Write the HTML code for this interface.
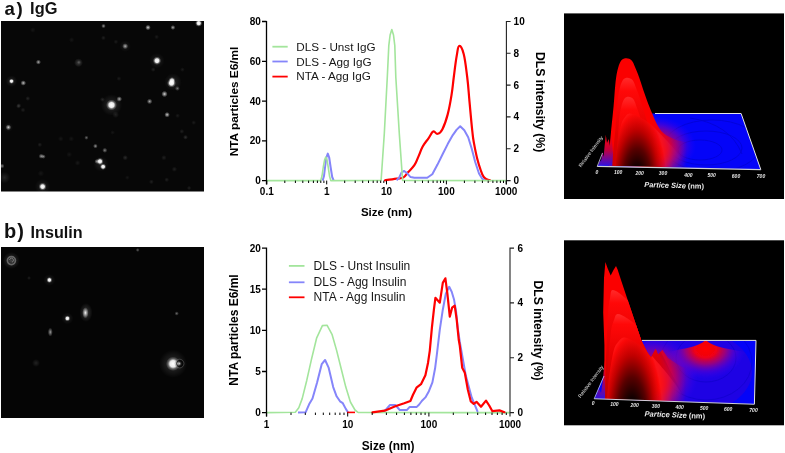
<!DOCTYPE html>
<html><head><meta charset="utf-8"><title>Figure</title>
<style>
html,body{margin:0;padding:0;background:#fff;}
body{width:785px;height:453px;overflow:hidden;}
svg{display:block;}
text{font-family:"Liberation Sans",Arial,sans-serif;}
.b{font-weight:bold;}
.tk{font-weight:bold;font-size:10px;fill:#000;}
.lg{font-size:11.5px;fill:#161616;}
.ax{font-weight:bold;font-size:11.5px;fill:#000;}
.w{fill:#e8e8e8;font-weight:bold;font-style:italic;font-size:5px;}
</style></head><body>
<svg width="785" height="453" viewBox="0 0 785 453">
<defs>
<radialGradient id="pw"><stop offset="0" stop-color="#fff" stop-opacity="1"/><stop offset="0.45" stop-color="#fff" stop-opacity="0.9"/><stop offset="0.7" stop-color="#fff" stop-opacity="0.3"/><stop offset="1" stop-color="#fff" stop-opacity="0"/></radialGradient>
<radialGradient id="ps"><stop offset="0" stop-color="#fff" stop-opacity="1"/><stop offset="0.4" stop-color="#fff" stop-opacity="0.55"/><stop offset="1" stop-color="#fff" stop-opacity="0"/></radialGradient>
<radialGradient id="ph"><stop offset="0" stop-color="#fff" stop-opacity="0.35"/><stop offset="1" stop-color="#fff" stop-opacity="0"/></radialGradient>
<linearGradient id="mtn" x1="0" y1="0" x2="0" y2="1"><stop offset="0" stop-color="#ff0000"/><stop offset="0.5" stop-color="#f00000"/><stop offset="0.75" stop-color="#a00000"/><stop offset="0.92" stop-color="#300008"/><stop offset="1" stop-color="#100010"/></linearGradient>
<linearGradient id="arch" x1="0" y1="0" x2="0" y2="1"><stop offset="0" stop-color="#ff1a1a"/><stop offset="0.25" stop-color="#f00000"/><stop offset="0.6" stop-color="#a80000"/><stop offset="0.9" stop-color="#300008"/><stop offset="1" stop-color="#0c0010"/></linearGradient>
<radialGradient id="rb"><stop offset="0" stop-color="#ff0000" stop-opacity="1"/><stop offset="0.35" stop-color="#f00010" stop-opacity="0.9"/><stop offset="0.7" stop-color="#a000a0" stop-opacity="0.45"/><stop offset="1" stop-color="#4000ff" stop-opacity="0"/></radialGradient>
<radialGradient id="a1" gradientUnits="userSpaceOnUse" cx="0" cy="0" r="1" gradientTransform="translate(637,186) scale(30,75)"><stop offset="0" stop-color="#000"/><stop offset="0.26" stop-color="#120000"/><stop offset="0.5" stop-color="#580000"/><stop offset="0.75" stop-color="#c00000"/><stop offset="0.95" stop-color="#fa0808"/><stop offset="1" stop-color="#ff1414"/></radialGradient>
<radialGradient id="a1b" gradientUnits="userSpaceOnUse" cx="0" cy="0" r="1" gradientTransform="translate(632,420) scale(31,86)"><stop offset="0" stop-color="#000"/><stop offset="0.26" stop-color="#120000"/><stop offset="0.5" stop-color="#580000"/><stop offset="0.75" stop-color="#c00000"/><stop offset="0.95" stop-color="#fa0808"/><stop offset="1" stop-color="#ff1414"/></radialGradient>
<linearGradient id="a2" x1="0" y1="0" x2="0" y2="1"><stop offset="0" stop-color="#ff2a2a"/><stop offset="0.12" stop-color="#ff0808"/><stop offset="0.5" stop-color="#e40000"/><stop offset="1" stop-color="#c00000"/></linearGradient>
<linearGradient id="spk" x1="0" y1="0" x2="0" y2="1"><stop offset="0" stop-color="#ff0000"/><stop offset="0.5" stop-color="#c00040"/><stop offset="1" stop-color="#3010e0"/></linearGradient>
<linearGradient id="fade1" gradientUnits="userSpaceOnUse" x1="650" y1="0" x2="688" y2="0"><stop offset="0" stop-color="#ff0000" stop-opacity="0"/><stop offset="0.3" stop-color="#e00030" stop-opacity="0.6"/><stop offset="0.6" stop-color="#8000b0" stop-opacity="0.7"/><stop offset="1" stop-color="#0404f8" stop-opacity="0"/></linearGradient>
<linearGradient id="fade2" gradientUnits="userSpaceOnUse" x1="646" y1="0" x2="690" y2="0"><stop offset="0" stop-color="#ff0000" stop-opacity="0"/><stop offset="0.3" stop-color="#e00030" stop-opacity="0.6"/><stop offset="0.6" stop-color="#8000b0" stop-opacity="0.7"/><stop offset="1" stop-color="#3004e8" stop-opacity="0"/></linearGradient>
<radialGradient id="rb3" gradientUnits="userSpaceOnUse" cx="0" cy="0" r="1" gradientTransform="translate(705.5,349) scale(40,30)"><stop offset="0" stop-color="#ff0000" stop-opacity="1"/><stop offset="0.28" stop-color="#fa0008" stop-opacity="0.95"/><stop offset="0.5" stop-color="#d00050" stop-opacity="0.7"/><stop offset="0.75" stop-color="#8000c0" stop-opacity="0.35"/><stop offset="1" stop-color="#4000ff" stop-opacity="0"/></radialGradient>
<radialGradient id="rb2"><stop offset="0" stop-color="#ff0000" stop-opacity="1"/><stop offset="0.3" stop-color="#f00010" stop-opacity="0.85"/><stop offset="0.65" stop-color="#a000a0" stop-opacity="0.4"/><stop offset="1" stop-color="#4000ff" stop-opacity="0"/></radialGradient>
<filter id="bl2" x="-5%" y="-5%" width="110%" height="110%"><feGaussianBlur stdDeviation="0.45"/></filter>
<filter id="bl" x="-20%" y="-20%" width="140%" height="140%"><feGaussianBlur stdDeviation="0.5"/></filter>
</defs>
<rect width="785" height="453" fill="#fff"/>

<text x="4.5" y="14.6" class="b" font-size="18.6" fill="#111">a</text><text x="16.4" y="14.9" class="b" font-size="18.8" fill="#111">)</text>
<text x="30.1" y="14.3" class="b" font-size="16" fill="#111" textLength="27.3" lengthAdjust="spacingAndGlyphs">IgG</text>
<text x="3.9" y="238.1" class="b" font-size="20" fill="#111">b</text><text x="17.3" y="238.1" class="b" font-size="20" fill="#111">)</text>
<text x="30.6" y="238.1" class="b" font-size="15.6" fill="#111" textLength="52" lengthAdjust="spacingAndGlyphs">Insulin</text>
<g><rect x="1" y="21" width="203" height="170.5" fill="#070707"/>
<g filter="url(#bl2)"><circle cx="11.5" cy="81.2" r="2.7" fill="url(#pw)" opacity="1"/><circle cx="11.5" cy="81.2" r="6" fill="url(#ph)" opacity="0.36"/><circle cx="23.3" cy="83" r="2.8" fill="url(#ps)" opacity="0.77"/><circle cx="38.4" cy="62.1" r="2.6" fill="url(#ps)" opacity="0.68"/><circle cx="78.5" cy="62.7" r="4.5" fill="url(#ph)" opacity="0.66"/><circle cx="79" cy="62.2" r="2" fill="url(#ph)" opacity="0.48"/><circle cx="103.5" cy="26" r="2.3" fill="url(#ps)" opacity="0.59"/><circle cx="27.8" cy="98.5" r="2.5" fill="url(#ph)" opacity="0.36"/><circle cx="18.9" cy="105.5" r="2.5" fill="url(#ph)" opacity="0.36"/><circle cx="32.8" cy="30" r="3" fill="url(#ph)" opacity="0.18"/><circle cx="71.6" cy="39.9" r="3" fill="url(#ph)" opacity="0.18"/><circle cx="103.4" cy="37.9" r="2.5" fill="url(#ph)" opacity="0.3"/><circle cx="102.4" cy="99.5" r="2.5" fill="url(#ph)" opacity="0.36"/><circle cx="198.7" cy="23.2" r="3.6" fill="url(#pw)" opacity="1"/><circle cx="148" cy="27.5" r="2.8" fill="url(#ps)" opacity="0.85"/><circle cx="172.9" cy="27.5" r="2.5" fill="url(#ps)" opacity="0.68"/><circle cx="125.2" cy="46.2" r="3" fill="url(#ps)" opacity="0.68"/><circle cx="125.2" cy="46.2" r="6" fill="url(#ph)" opacity="0.24"/><circle cx="157" cy="60.7" r="4.2" fill="url(#pw)" opacity="1"/><circle cx="157" cy="60.7" r="8" fill="url(#ph)" opacity="0.3"/><circle cx="171.5" cy="83.1" r="4.5" fill="url(#pw)" opacity="1"/><circle cx="172" cy="80.5" r="3.5" fill="url(#pw)" opacity="0.9"/><circle cx="173" cy="82" r="9" fill="url(#ph)" opacity="0.36"/><circle cx="177.4" cy="88.5" r="2.5" fill="url(#ps)" opacity="0.42"/><circle cx="164.5" cy="94" r="3.2" fill="url(#ps)" opacity="0.85"/><circle cx="149.6" cy="101.4" r="2.8" fill="url(#ps)" opacity="0.68"/><circle cx="119.3" cy="99" r="2.8" fill="url(#ps)" opacity="0.68"/><circle cx="111.5" cy="105" r="5.5" fill="url(#pw)" opacity="1"/><circle cx="111.5" cy="105" r="11" fill="url(#ph)" opacity="0.42"/><circle cx="153.2" cy="69.6" r="2.5" fill="url(#ph)" opacity="0.3"/><circle cx="156.6" cy="36.9" r="2.5" fill="url(#ph)" opacity="0.24"/><circle cx="115.9" cy="41.8" r="2.5" fill="url(#ph)" opacity="0.24"/><circle cx="182.4" cy="69.6" r="2.5" fill="url(#ph)" opacity="0.24"/><circle cx="118.9" cy="78.6" r="2.5" fill="url(#ph)" opacity="0.24"/><circle cx="8.4" cy="127.3" r="2.8" fill="url(#ps)" opacity="0.81"/><circle cx="8.4" cy="127.3" r="5" fill="url(#ph)" opacity="0.24"/><circle cx="42.6" cy="186.6" r="4" fill="url(#pw)" opacity="1"/><circle cx="42.6" cy="186.6" r="8" fill="url(#ph)" opacity="0.3"/><circle cx="100" cy="161.4" r="3.6" fill="url(#pw)" opacity="1"/><circle cx="103.1" cy="166.7" r="3.2" fill="url(#pw)" opacity="1"/><circle cx="96.9" cy="161.4" r="2.5" fill="url(#ps)" opacity="0.59"/><circle cx="101" cy="164" r="8" fill="url(#ph)" opacity="0.3"/><circle cx="41.2" cy="156.2" r="2.6" fill="url(#ps)" opacity="0.59"/><circle cx="43.4" cy="156.6" r="2.4" fill="url(#ps)" opacity="0.51"/><circle cx="95.4" cy="146.1" r="2.4" fill="url(#ps)" opacity="0.59"/><circle cx="86.4" cy="137.7" r="2.2" fill="url(#ps)" opacity="0.42"/><circle cx="4.5" cy="177.6" r="6" fill="url(#ph)" opacity="0.33"/><circle cx="2" cy="166" r="2.5" fill="url(#ps)" opacity="0.51"/><circle cx="18.4" cy="106.3" r="2.5" fill="url(#ph)" opacity="0.36"/><circle cx="23" cy="110" r="2.5" fill="url(#ph)" opacity="0.3"/><circle cx="104.8" cy="150.3" r="2.6" fill="url(#ps)" opacity="0.51"/><circle cx="39.8" cy="144.7" r="2.5" fill="url(#ph)" opacity="0.3"/><circle cx="60.8" cy="138.8" r="3" fill="url(#ph)" opacity="0.18"/><circle cx="71.3" cy="138.8" r="3" fill="url(#ph)" opacity="0.18"/><circle cx="69.2" cy="154.5" r="3" fill="url(#ph)" opacity="0.18"/><circle cx="77.6" cy="162.9" r="3" fill="url(#ph)" opacity="0.21"/><circle cx="40.9" cy="173.4" r="3.5" fill="url(#ph)" opacity="0.18"/><circle cx="167.1" cy="114.7" r="2.8" fill="url(#ps)" opacity="0.81"/><circle cx="125.2" cy="157.7" r="2.8" fill="url(#ph)" opacity="0.42"/><circle cx="185.5" cy="137.3" r="2.5" fill="url(#ph)" opacity="0.48"/><circle cx="181.8" cy="131.4" r="2.5" fill="url(#ph)" opacity="0.3"/><circle cx="193.7" cy="122.6" r="2.5" fill="url(#ph)" opacity="0.24"/><circle cx="177.6" cy="115.7" r="2.5" fill="url(#ph)" opacity="0.24"/><circle cx="163.9" cy="157.7" r="2.8" fill="url(#ph)" opacity="0.3"/><circle cx="174.4" cy="169.2" r="2.8" fill="url(#ph)" opacity="0.3"/><circle cx="166.7" cy="179.7" r="2.5" fill="url(#ph)" opacity="0.3"/><circle cx="151.4" cy="181.8" r="2.5" fill="url(#ph)" opacity="0.3"/><circle cx="189.1" cy="188" r="2.3" fill="url(#ph)" opacity="0.3"/><circle cx="115.7" cy="114.7" r="3.5" fill="url(#ph)" opacity="0.3"/><circle cx="112.6" cy="132.5" r="2.5" fill="url(#ph)" opacity="0.18"/><circle cx="127.3" cy="177.6" r="2.5" fill="url(#ph)" opacity="0.18"/></g>
</g>
<g><rect x="1" y="247" width="203" height="171" fill="#050505"/>
<g filter="url(#bl2)"><circle cx="11.4" cy="260.5" r="8.5" fill="url(#ph)" opacity="0.54"/><circle cx="11" cy="261" r="2.5" fill="url(#ph)" opacity="0.3"/><circle cx="49.4" cy="280" r="3" fill="url(#pw)" opacity="1"/><circle cx="49.4" cy="280" r="6" fill="url(#ph)" opacity="0.3"/><circle cx="67.4" cy="318.4" r="3" fill="url(#pw)" opacity="1"/><circle cx="67.4" cy="318.4" r="6" fill="url(#ph)" opacity="0.3"/><circle cx="29" cy="278" r="2" fill="url(#ph)" opacity="0.3"/><circle cx="176.7" cy="313.5" r="2.2" fill="url(#ps)" opacity="0.42"/><circle cx="137.7" cy="250" r="2" fill="url(#ps)" opacity="0.38"/><circle cx="36" cy="363" r="4" fill="url(#ph)" opacity="0.33"/><circle cx="173.1" cy="363.8" r="7.2" fill="url(#pw)" opacity="1"/><circle cx="173.1" cy="363.8" r="14" fill="url(#ph)" opacity="0.48"/><circle cx="179.3" cy="363.6" r="2" fill="url(#ps)" opacity="0.77"/></g>
<ellipse cx="85.4" cy="312.8" rx="3.2" ry="5.6" fill="url(#ps)" opacity="0.95" filter="url(#bl2)"/><ellipse cx="86" cy="312.5" rx="6.5" ry="9.5" fill="url(#ph)" opacity="0.6"/>
<ellipse cx="50.3" cy="332.1" rx="2.5" ry="4.5" fill="url(#ps)" opacity="0.6"/>
<circle cx="11.4" cy="260.6" r="4" fill="none" stroke="#aaa" stroke-width="1.7" opacity="0.5" filter="url(#bl)"/><path d="M9.5,260 a2,2 0 1 1 2.4,2.2" fill="none" stroke="#bbb" stroke-width="1" opacity="0.55" filter="url(#bl)"/>
<circle cx="179.6" cy="363.6" r="3.1" fill="none" stroke="#000" stroke-width="0.9" opacity="0.9"/><circle cx="179.6" cy="363.6" r="4.4" fill="none" stroke="#777" stroke-width="0.7" opacity="0.6"/>
</g>
<g>
<path d="M385.0,180.3 C387.3,180.0 392.8,179.3 396.5,178.7 C400.2,178.1 401.2,178.7 403.5,177.4 C405.8,176.1 405.8,174.7 408.0,172.3 C410.2,169.9 412.3,168.3 414.4,165.2 C416.5,162.1 416.6,160.6 418.3,156.9 C420.0,153.2 420.7,150.3 422.7,146.6 C424.7,142.9 426.4,141.3 428.5,138.3 C430.6,135.3 431.4,132.5 433.2,131.6 C435.0,130.7 435.7,134.2 437.5,133.8 C439.3,133.4 440.3,133.4 442.3,129.5 C444.3,125.6 445.9,121.3 447.7,114.4 C449.5,107.5 450.3,102.7 451.5,95.2 C452.7,87.7 452.8,84.9 453.8,77.0 C454.8,69.1 455.6,62.1 456.7,55.9 C457.8,49.7 457.8,46.4 459.2,46.0 C460.6,45.6 462.1,47.7 463.7,53.9 C465.3,60.1 466.0,67.5 467.2,77.0 C468.4,86.5 468.5,90.8 469.5,101.6 C470.5,112.4 471.4,122.8 472.3,131.0 C473.2,139.2 472.9,137.4 473.9,142.8 C474.9,148.2 475.7,152.6 477.1,158.2 C478.5,163.8 479.7,167.3 481.0,171.0 C482.3,174.7 482.4,175.0 483.5,176.7 C484.6,178.4 485.4,178.6 486.7,179.3 C488.0,180.0 489.3,180.1 490.0,180.3" fill="none" stroke="#ff0000" stroke-width="2.2" stroke-linejoin="round" stroke-linecap="round"/>
<polyline points="322.6,180.6 324.0,176.0 325.2,166.0 326.4,157.5 327.8,153.6 329.2,157.5 330.6,167.0 332.2,177.0 333.7,180.6" fill="none" stroke="#8585fa" stroke-width="2" stroke-linejoin="round"/>
<polyline points="396.5,180.3 399.0,178.0 401.6,172.3 404.2,171.0 406.7,172.9 410.6,177.1 414.4,177.8 427.2,177.8 432.3,174.2 437.5,164.6 442.6,154.3 447.7,144.1 452.8,135.1 456.7,129.6 460.2,126.2 464.3,130.3 468.2,137.2 471.6,148.3 475.2,162.0 479.0,173.5 482.2,178.7 484.8,180.3" fill="none" stroke="#8585fa" stroke-width="2" stroke-linejoin="round"/>
<polyline points="266.6,180.6 320.7,180.6 322.0,176.0 323.3,167.0 324.6,159.8 325.8,157.0 327.0,159.8 328.2,167.0 329.5,176.0 330.8,180.6 381.1,180.5 384.3,133.6 387.3,77.0 388.8,45.6 390.1,35.0 391.8,29.6 393.5,35.0 394.8,45.6 395.8,77.0 399.3,133.6 402.6,180.5 506.4,180.6" fill="none" stroke="#a3e59c" stroke-width="1.6" stroke-linejoin="round"/>
<path d="M266.5,21 V184.5 M262,21.5 H266.5 M262,61.4 H266.5 M262,101.2 H266.5 M262,140.9 H266.5 M262,180.6 H266.5" stroke="#000" stroke-width="1.3" fill="none"/>
<path d="M506.4,21 V184.5 M506.4,21.5 H510.6 M506.4,53.3 H510.6 M506.4,85.1 H510.6 M506.4,116.9 H510.6 M506.4,148.7 H510.6 M506.4,180.6 H510.6" stroke="#222" stroke-width="1.1" fill="none"/>
<path d="M266.8,180.6 V184.4 M284.8,180.6 V183.0 M295.4,180.6 V183.0 M302.8,180.6 V183.0 M308.6,180.6 V183.0 M313.4,180.6 V183.0 M317.4,180.6 V183.0 M320.8,180.6 V183.0 M323.9,180.6 V183.0 M326.7,180.6 V184.4 M344.7,180.6 V183.0 M355.2,180.6 V183.0 M362.7,180.6 V183.0 M368.5,180.6 V183.0 M373.2,180.6 V183.0 M377.2,180.6 V183.0 M380.7,180.6 V183.0 M383.8,180.6 V183.0 M386.5,180.6 V184.4 M404.5,180.6 V183.0 M415.1,180.6 V183.0 M422.5,180.6 V183.0 M428.3,180.6 V183.0 M433.1,180.6 V183.0 M437.1,180.6 V183.0 M440.5,180.6 V183.0 M443.6,180.6 V183.0 M446.4,180.6 V184.4 M464.4,180.6 V183.0 M474.9,180.6 V183.0 M482.4,180.6 V183.0 M488.2,180.6 V183.0 M492.9,180.6 V183.0 M496.9,180.6 V183.0 M500.4,180.6 V183.0 M503.5,180.6 V183.0 M506.2,180.6 V184.4" stroke="#000" stroke-width="1" fill="none"/>
<text x="260.8" y="24.9" text-anchor="end" class="tk">80</text>
<text x="260.8" y="64.8" text-anchor="end" class="tk">60</text>
<text x="260.8" y="104.6" text-anchor="end" class="tk">40</text>
<text x="260.8" y="144.3" text-anchor="end" class="tk">20</text>
<text x="260.8" y="184.0" text-anchor="end" class="tk">0</text>
<text x="513.6" y="24.9" class="tk">10</text>
<text x="513.6" y="56.7" class="tk">8</text>
<text x="513.6" y="88.5" class="tk">6</text>
<text x="513.6" y="120.3" class="tk">4</text>
<text x="513.6" y="152.1" class="tk">2</text>
<text x="513.6" y="184.0" class="tk">0</text>
<text x="266.8" y="195.4" text-anchor="middle" class="tk">0.1</text>
<text x="326.7" y="195.4" text-anchor="middle" class="tk">1</text>
<text x="386.5" y="195.4" text-anchor="middle" class="tk">10</text>
<text x="446.4" y="195.4" text-anchor="middle" class="tk">100</text>
<text x="506.2" y="195.4" text-anchor="middle" class="tk">1000</text>
<text x="386.5" y="216.3" text-anchor="middle" class="ax">Size (nm)</text>
<text transform="translate(238,101.5) rotate(-90)" text-anchor="middle" class="ax" style="font-size:11.8px">NTA particles E6/ml</text>
<text transform="translate(536.2,102.1) rotate(90)" text-anchor="middle" class="ax" style="font-size:12.2px">DLS intensity (%)</text>
<path d="M272.4,46.7 H287.7" stroke="#a3e59c" stroke-width="1.8"/>
<text x="296.3" y="50.9" class="lg" style="font-size:11.7px">DLS - Unst IgG</text>
<path d="M272.4,61.5 H287.7" stroke="#8585fa" stroke-width="1.8"/>
<text x="296.3" y="65.8" class="lg" style="font-size:11.7px">DLS - Agg IgG</text>
<path d="M272.4,76.6 H287.7" stroke="#ff0000" stroke-width="1.8"/>
<text x="296.3" y="80.1" class="lg" style="font-size:11.7px">NTA - Agg IgG</text>
</g>
<g>
<polyline points="266.6,412.6 295.3,412.3 298.8,407.7 302.2,398.6 306.8,380.2 311.4,359.6 316.7,337.8 322.4,325.6 327.0,325.2 332.0,334.3 336.6,350.4 341.2,368.8 345.8,387.1 350.4,402.0 355.0,410.0 357.9,412.3 510.0,412.6" fill="none" stroke="#a3e59c" stroke-width="1.6" stroke-linejoin="round"/>
<polyline points="298.0,412.6 305.6,412.3 309.1,404.3 312.5,398.6 317.1,382.5 321.7,364.2 325.1,360.0 328.6,367.6 333.2,387.1 336.6,396.3 340.0,401.3 342.8,403.2 345.8,408.9 348.0,412.3" fill="none" stroke="#8585fa" stroke-width="2" stroke-linejoin="round"/>
<polyline points="383.0,412.3 386.5,408.9 390.0,405.0 395.3,405.0 398.0,408.0 399.8,410.1 406.8,410.1 409.5,407.1 416.5,407.1 419.2,404.5 421.8,401.0 425.4,397.4 428.9,391.2 432.4,382.4 435.1,368.3 436.9,354.1 439.8,329.6 442.8,309.7 445.8,293.8 449.2,286.8 451.7,291.8 454.1,299.8 456.1,311.7 457.7,327.6 459.8,342.0 465.8,375.6 471.7,397.5 477.7,411.9" fill="none" stroke="#8585fa" stroke-width="2" stroke-linejoin="round"/>
<path d="M357.9,412.6 H510" stroke="#a3e59c" stroke-width="1.4"/>
<polyline points="372.4,412.4 384.7,410.7 395.3,406.3 404.2,403.3 410.4,401.0 413.0,394.8 416.5,387.7 421.0,384.2 425.4,375.3 428.0,363.0 429.8,350.6 431.9,327.6 433.9,309.7 435.4,297.8 439.8,302.7 442.8,282.9 445.4,278.3 447.4,293.8 449.8,316.7 452.1,307.7 454.7,305.7 456.7,319.6 458.7,339.5 459.8,345.9 462.2,367.7 464.8,372.7 467.8,389.5 470.8,401.4 473.7,403.8 476.5,401.8 481.0,406.8 486.0,400.6 489.2,405.5 492.4,411.2 499.5,410.4 504.5,412.2" fill="none" stroke="#ff0000" stroke-width="2.2" stroke-linejoin="round" stroke-linecap="round"/>
<path d="M347,412.4 H355" stroke="#ff0000" stroke-width="1.6"/>
<path d="M266.5,247.6 V416.6 M262,248.1 H266.5 M262,289.2 H266.5 M262,330.3 H266.5 M262,371.5 H266.5 M262,412.6 H266.5" stroke="#000" stroke-width="1.3" fill="none"/>
<path d="M510,247.6 V416.6 M510,248.1 H514 M510,302.9 H514 M510,357.8 H514 M510,412.6 H514" stroke="#222" stroke-width="1.1" fill="none"/>
<path d="M266.6,412.6 V416.5 M291.0,412.6 V415.0 M305.3,412.6 V415.0 M315.4,412.6 V415.0 M323.3,412.6 V415.0 M329.7,412.6 V415.0 M335.2,412.6 V415.0 M339.9,412.6 V415.0 M344.0,412.6 V415.0 M347.7,412.6 V416.5 M372.2,412.6 V415.0 M386.4,412.6 V415.0 M396.6,412.6 V415.0 M404.4,412.6 V415.0 M410.9,412.6 V415.0 M416.3,412.6 V415.0 M421.0,412.6 V415.0 M425.1,412.6 V415.0 M428.9,412.6 V416.5 M453.3,412.6 V415.0 M467.6,412.6 V415.0 M477.7,412.6 V415.0 M485.6,412.6 V415.0 M492.0,412.6 V415.0 M497.4,412.6 V415.0 M502.1,412.6 V415.0 M506.3,412.6 V415.0 " stroke="#000" stroke-width="1" fill="none"/>
<text x="260.8" y="251.5" text-anchor="end" class="tk">20</text>
<text x="260.8" y="292.6" text-anchor="end" class="tk">15</text>
<text x="260.8" y="333.7" text-anchor="end" class="tk">10</text>
<text x="260.8" y="374.9" text-anchor="end" class="tk">5</text>
<text x="260.8" y="416.0" text-anchor="end" class="tk">0</text>
<text x="517.4" y="251.5" class="tk">6</text>
<text x="517.4" y="306.3" class="tk">4</text>
<text x="517.4" y="361.2" class="tk">2</text>
<text x="517.4" y="416.0" class="tk">0</text>
<text x="266.6" y="427.9" text-anchor="middle" class="tk">1</text>
<text x="347.7" y="427.9" text-anchor="middle" class="tk">10</text>
<text x="428.9" y="427.9" text-anchor="middle" class="tk">100</text>
<text x="510.0" y="427.9" text-anchor="middle" class="tk">1000</text>
<text x="388.1" y="449.7" text-anchor="middle" class="ax" style="font-size:11.9px">Size (nm)</text>
<text transform="translate(237.8,330) rotate(-90)" text-anchor="middle" class="ax" style="font-size:12px">NTA particles E6/ml</text>
<text transform="translate(534.3,330.5) rotate(90)" text-anchor="middle" class="ax" style="font-size:12.2px">DLS intensity (%)</text>
<path d="M288.9,265.9 H304.5" stroke="#a3e59c" stroke-width="1.8"/>
<text x="313.6" y="269.9" class="lg" style="font-size:12px">DLS - Unst Insulin</text>
<path d="M288.9,282.3 H304.5" stroke="#8585fa" stroke-width="1.8"/>
<text x="313.6" y="286.3" class="lg" style="font-size:12px">DLS - Agg Insulin</text>
<path d="M288.9,297.3 H304.5" stroke="#ff0000" stroke-width="1.8"/>
<text x="313.6" y="301.1" class="lg" style="font-size:12px">NTA - Agg Insulin</text>
</g>
<g>
<rect x="564" y="13.4" width="220" height="185.6" fill="#000"/>
<clipPath id="pl1"><polygon points="597.2,166.4 760.8,169.6 741.1,113.5 632,113.5"/></clipPath>
<polygon points="597.2,166.4 760.8,169.6 741.1,113.5 632,113.5" fill="#0404f8"/>
<g clip-path="url(#pl1)">
<g fill="none" stroke="#0000b0" stroke-width="0.8" opacity="0.5"><ellipse cx="700" cy="150" rx="22" ry="10"/><ellipse cx="706" cy="148" rx="36" ry="17"/><ellipse cx="712" cy="146" rx="48" ry="26"/><path d="M690,118 q40,6 52,36"/></g>
<ellipse cx="652" cy="146" rx="44" ry="30" fill="url(#rb)"/>
<ellipse cx="646" cy="152" rx="40" ry="24" fill="url(#rb)"/>
</g>
<linearGradient id="mg1" gradientUnits="userSpaceOnUse" x1="652" y1="0" x2="687" y2="0"><stop offset="0" stop-color="#fff"/><stop offset="0.25" stop-color="#ddd"/><stop offset="0.6" stop-color="#555"/><stop offset="1" stop-color="#000"/></linearGradient>
<mask id="mk1" maskUnits="userSpaceOnUse" x="560" y="10" width="225" height="190"><rect x="560" y="10" width="225" height="190" fill="url(#mg1)"/><rect x="560" y="10" width="225" height="103.5" fill="#fff"/></mask>
<clipPath id="cf1"><polygon points="590,20 700,20 700,167.8 597.2,165.6"/></clipPath>
<g mask="url(#mk1)"><g clip-path="url(#cf1)">
<clipPath id="cs1"><path d="M608.6,166.0 C608.8,163.3 609.2,155.7 609.6,150.0 C610.0,144.3 610.3,139.3 611.0,132.0 C611.7,124.7 612.9,113.7 613.6,106.0 C614.3,98.3 614.6,91.5 615.2,85.7 C615.8,79.9 616.3,75.2 617.3,71.0 C618.3,66.8 619.5,62.9 621.0,60.8 C622.5,58.7 624.7,58.2 626.5,58.2 C628.3,58.2 630.3,59.1 631.7,60.5 C633.1,61.9 633.7,64.0 634.9,66.8 C636.1,69.6 637.7,73.4 639.1,77.3 C640.5,81.2 641.7,85.4 643.3,89.9 C644.9,94.5 646.8,100.0 648.5,104.6 C650.2,109.1 652.0,113.3 653.8,117.2 C655.5,121.1 657.2,124.9 659.0,127.7 C660.8,130.5 661.8,132.0 664.5,134.0 C667.2,136.0 670.4,137.5 675.0,139.5 C679.6,141.5 689.2,141.2 692.0,146.0 C694.8,150.8 692.0,164.3 692.0,168.0 Z"/></clipPath>
<path d="M608.6,166.0 C608.8,163.3 609.2,155.7 609.6,150.0 C610.0,144.3 610.3,139.3 611.0,132.0 C611.7,124.7 612.9,113.7 613.6,106.0 C614.3,98.3 614.6,91.5 615.2,85.7 C615.8,79.9 616.3,75.2 617.3,71.0 C618.3,66.8 619.5,62.9 621.0,60.8 C622.5,58.7 624.7,58.2 626.5,58.2 C628.3,58.2 630.3,59.1 631.7,60.5 C633.1,61.9 633.7,64.0 634.9,66.8 C636.1,69.6 637.7,73.4 639.1,77.3 C640.5,81.2 641.7,85.4 643.3,89.9 C644.9,94.5 646.8,100.0 648.5,104.6 C650.2,109.1 652.0,113.3 653.8,117.2 C655.5,121.1 657.2,124.9 659.0,127.7 C660.8,130.5 661.8,132.0 664.5,134.0 C667.2,136.0 670.4,137.5 675.0,139.5 C679.6,141.5 689.2,141.2 692.0,146.0 C694.8,150.8 692.0,164.3 692.0,168.0 Z" fill="#fb0000"/>
<path d="M598.2,165.8 L600,160 L601,162 L602.5,152 L603.6,157 L604.6,146 L605.8,134.8 L607,143 L608.7,139 L610,146 L611.5,134 L614,166 Z" fill="url(#spk)"/>
<g clip-path="url(#cs1)">
<path d="M608.6,166.0 C608.8,163.3 609.2,155.7 609.6,150.0 C610.0,144.3 610.3,139.3 611.0,132.0 C611.7,124.7 612.9,113.7 613.6,106.0 C614.3,98.3 614.6,91.5 615.2,85.7 C615.8,79.9 616.3,75.2 617.3,71.0 C618.3,66.8 619.5,62.9 621.0,60.8 C622.5,58.7 624.7,58.2 626.5,58.2 C628.3,58.2 630.3,59.1 631.7,60.5 C633.1,61.9 633.7,64.0 634.9,66.8 C636.1,69.6 637.7,73.4 639.1,77.3 C640.5,81.2 641.7,85.4 643.3,89.9 C644.9,94.5 646.8,100.0 648.5,104.6 C650.2,109.1 652.0,113.3 653.8,117.2 C655.5,121.1 657.2,124.9 659.0,127.7 C660.8,130.5 661.8,132.0 664.5,134.0 C667.2,136.0 670.4,137.5 675.0,139.5 C679.6,141.5 689.2,141.2 692.0,146.0 C694.8,150.8 692.0,164.3 692.0,168.0 Z" fill="url(#a2)" transform="translate(1.2,19.6) translate(626.5,58.2) scale(0.93,1) translate(-626.5,-58.2)"/>
<path d="M608.6,166.0 C608.8,163.3 609.2,155.7 609.6,150.0 C610.0,144.3 610.3,139.3 611.0,132.0 C611.7,124.7 612.9,113.7 613.6,106.0 C614.3,98.3 614.6,91.5 615.2,85.7 C615.8,79.9 616.3,75.2 617.3,71.0 C618.3,66.8 619.5,62.9 621.0,60.8 C622.5,58.7 624.7,58.2 626.5,58.2 C628.3,58.2 630.3,59.1 631.7,60.5 C633.1,61.9 633.7,64.0 634.9,66.8 C636.1,69.6 637.7,73.4 639.1,77.3 C640.5,81.2 641.7,85.4 643.3,89.9 C644.9,94.5 646.8,100.0 648.5,104.6 C650.2,109.1 652.0,113.3 653.8,117.2 C655.5,121.1 657.2,124.9 659.0,127.7 C660.8,130.5 661.8,132.0 664.5,134.0 C667.2,136.0 670.4,137.5 675.0,139.5 C679.6,141.5 689.2,141.2 692.0,146.0 C694.8,150.8 692.0,164.3 692.0,168.0 Z" fill="url(#a2)" transform="translate(2.2,38.6) translate(626.5,58.2) scale(0.88,1) translate(-626.5,-58.2)"/>
<path d="M615.6,167.0 C615.8,164.8 616.2,157.9 616.6,153.6 C617.0,149.3 617.3,146.2 618.1,141.3 C618.9,136.4 620.1,128.2 621.3,124.2 C622.4,120.2 623.6,119.0 625.0,117.2 C626.3,115.5 627.3,113.7 629.4,113.5 C631.5,113.3 634.0,114.4 637.5,116.2 C641.0,118.0 645.6,120.0 650.6,124.2 C655.5,128.4 662.7,136.2 667.4,141.3 C672.1,146.4 675.4,150.4 678.7,154.7 C682.0,159.0 685.9,164.9 687.4,167.0 Z" fill="url(#a1)"/>
</g>
</g></g>
<path d="M655,113.5 H741.1 L760.8,169.6" fill="none" stroke="#e6e6e6" stroke-width="1"/>
<path d="M597.2,166.4 L760.8,169.6" fill="none" stroke="#d0d0d8" stroke-width="1.1"/>
<path d="M597.2,166.4 L602.5,153" fill="none" stroke="#c8c8e8" stroke-width="0.8"/>
<text x="596.8" y="173.6" text-anchor="middle" class="w">0</text>
<text x="618.2" y="174.3" text-anchor="middle" class="w">100</text>
<text x="639.7" y="174.8" text-anchor="middle" class="w">200</text>
<text x="663" y="175.3" text-anchor="middle" class="w">300</text>
<text x="688.4" y="176.5" text-anchor="middle" class="w">400</text>
<text x="711.6" y="177.3" text-anchor="middle" class="w">500</text>
<text x="736" y="177.6" text-anchor="middle" class="w">600</text>
<text x="761" y="178" text-anchor="middle" class="w">700</text>
<text transform="translate(644.3,187.1) rotate(1.6)" font-size="7.4" font-weight="bold" fill="#ececec"><tspan font-style="italic">Partice Size</tspan> (nm)</text>
<text transform="translate(581,167.6) rotate(-53.4)" font-size="4.9" fill="#e0e0e0">Relative Intensity</text>
</g>
<g>
<rect x="564" y="240.3" width="220" height="185" fill="#000"/>
<clipPath id="pl2"><polygon points="594.2,398.8 754.4,404.2 756,340.4 618,340.4"/></clipPath>
<polygon points="594.2,398.8 754.4,404.2 756,340.4 618,340.4" fill="#0404f8"/>
<g clip-path="url(#pl2)">
<ellipse cx="690" cy="372" rx="62" ry="42" fill="#5000c0" opacity="0.35"/>
<g fill="none" stroke="#0000b0" stroke-width="0.8" opacity="0.4"><ellipse cx="706" cy="358" rx="30" ry="24"/><ellipse cx="706" cy="362" rx="46" ry="38"/></g>
<ellipse cx="652" cy="376" rx="46" ry="40" fill="url(#rb)"/>
<ellipse cx="645" cy="384" rx="40" ry="30" fill="url(#rb)"/>
<path d="M705.7,339.4 C703,343.5 694,347 682,349 C674,350.5 668,352 660,354 L660,392 L752,392 L752,354 C744,352 737,350.5 729,349 C717,347 708.5,343.5 705.7,339.4 Z" fill="url(#rb3)" filter="url(#bl)"/>
</g>
<linearGradient id="mg2" gradientUnits="userSpaceOnUse" x1="651" y1="0" x2="686" y2="0"><stop offset="0" stop-color="#fff"/><stop offset="0.25" stop-color="#ddd"/><stop offset="0.6" stop-color="#555"/><stop offset="1" stop-color="#000"/></linearGradient>
<mask id="mk2" maskUnits="userSpaceOnUse" x="560" y="238" width="225" height="190"><rect x="560" y="238" width="225" height="190" fill="url(#mg2)"/><rect x="560" y="238" width="225" height="102.4" fill="#fff"/></mask>
<clipPath id="cf2"><polygon points="590,250 700,250 700,402.6 594.2,398.6"/></clipPath>
<g mask="url(#mk2)"><g clip-path="url(#cf2)">
<clipPath id="cs2"><polygon points="604.4,399.0 604.4,345.0 603.2,312.5 604.0,278.0 605.4,262.1 607.5,268.0 610.7,275.4 613.5,270.0 616.0,266.1 617.6,269.5 621.5,281.5 628.2,301.5 634.6,320.5 641.3,340.3 647.0,352.0 651.0,357.7 655.7,348.9 658.0,355.0 662.4,349.7 668.0,358.0 680.0,366.0 696.0,372.0 696.0,403.0"/></clipPath>
<polygon points="604.4,399.0 604.4,345.0 603.2,312.5 604.0,278.0 605.4,262.1 607.5,268.0 610.7,275.4 613.5,270.0 616.0,266.1 617.6,269.5 621.5,281.5 628.2,301.5 634.6,320.5 641.3,340.3 647.0,352.0 651.0,357.7 655.7,348.9 658.0,355.0 662.4,349.7 668.0,358.0 680.0,366.0 696.0,372.0 696.0,403.0" fill="#fb0000"/>
<path d="M595.2,398.4 L599,389 L601,393 L603,380 L604.5,360 L606,398.8 Z" fill="url(#spk)"/>
<g clip-path="url(#cs2)">
<path d="M605.0,400.0 C605.1,395.4 605.3,381.3 605.5,372.5 C605.8,363.7 605.9,357.3 606.4,347.2 C606.8,337.1 607.5,320.2 608.1,312.0 C608.7,303.8 609.4,301.4 610.1,297.7 C610.8,294.0 610.5,290.4 612.5,290.0 C614.5,289.6 618.0,291.8 622.3,295.5 C626.6,299.2 632.0,303.4 638.0,312.0 C644.1,320.6 652.7,336.8 658.4,347.2 C664.0,357.6 668.0,365.9 672.0,374.7 C676.0,383.5 680.8,395.8 682.5,400.0 Z" fill="url(#a2)"/>
<path d="M606.5,400.0 C606.6,396.4 606.9,385.4 607.3,378.5 C607.6,371.6 607.9,366.6 608.5,358.7 C609.1,350.8 610.1,337.6 611.0,331.2 C611.9,324.8 612.9,322.9 614.0,320.0 C615.1,317.2 615.3,314.3 617.5,314.0 C619.7,313.7 622.9,315.4 627.0,318.3 C631.2,321.2 636.5,324.5 642.3,331.2 C648.2,337.9 656.5,350.6 662.0,358.7 C667.5,366.9 671.4,373.3 675.3,380.2 C679.2,387.1 683.8,396.7 685.5,400.0 Z" fill="url(#a2)"/>
<path d="M607.1,400.0 C607.3,397.4 607.8,389.4 608.3,384.4 C608.8,379.3 609.1,375.7 610.1,370.0 C611.0,364.2 612.5,354.6 613.9,349.9 C615.2,345.2 616.7,343.9 618.3,341.8 C619.9,339.7 621.3,337.6 623.6,337.4 C625.9,337.2 628.5,338.4 632.3,340.5 C636.1,342.6 640.9,345.0 646.2,349.9 C651.6,354.8 659.2,364.0 664.2,370.0 C669.2,375.9 672.7,380.6 676.3,385.6 C679.9,390.6 684.1,397.6 685.6,400.0 Z" fill="url(#a1b)"/>
</g>
</g></g>
<path d="M642,340.4 H756 L754.4,404.2" fill="none" stroke="#e6e6e6" stroke-width="1"/>
<path d="M594.2,398.8 L754.4,404.2" fill="none" stroke="#d0d0d8" stroke-width="1.1"/>
<path d="M594.2,398.8 L604,376" fill="none" stroke="#c8c8e8" stroke-width="0.8"/>
<text x="593.1" y="404.8" text-anchor="middle" class="w">0</text>
<text x="614.3" y="406.1" text-anchor="middle" class="w">100</text>
<text x="634.7" y="407.1" text-anchor="middle" class="w">200</text>
<text x="655.8" y="407.9" text-anchor="middle" class="w">300</text>
<text x="679.7" y="409" text-anchor="middle" class="w">400</text>
<text x="704.2" y="409.7" text-anchor="middle" class="w">500</text>
<text x="728.1" y="411" text-anchor="middle" class="w">600</text>
<text x="753.5" y="412.2" text-anchor="middle" class="w">700</text>
<text transform="translate(644.6,416.2) rotate(2.4)" font-size="7.5" font-weight="bold" fill="#ececec"><tspan font-style="italic">Partice Size</tspan> (nm)</text>
<text transform="translate(580.6,398.2) rotate(-53.2)" font-size="5.1" fill="#e0e0e0">Relative Intensity</text>
</g>
</svg></body></html>
